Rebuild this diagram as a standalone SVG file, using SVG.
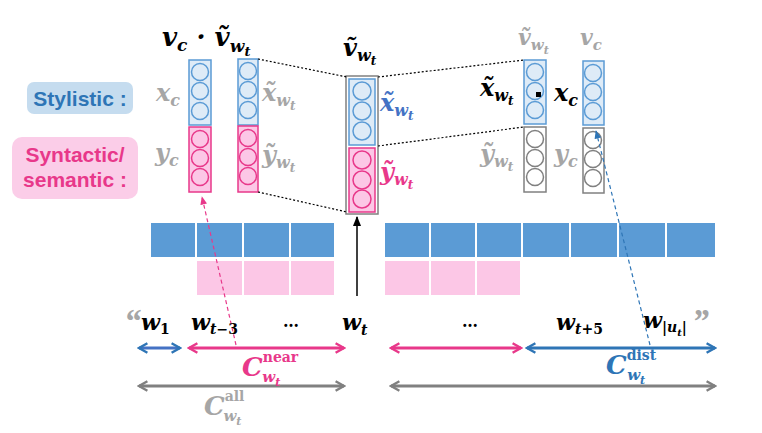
<svg xmlns="http://www.w3.org/2000/svg" width="762" height="433" viewBox="0 0 762 433">
<defs>
<style>
.m{font-family:"DejaVu Serif","Liberation Serif",serif;font-style:italic;font-weight:bold}
.g{fill:#a6a6a6}
.k{fill:#000}
.q{font-family:"Liberation Serif",serif;font-weight:bold;font-size:34px;fill:#a6a6a6}
.lab{font-family:"Liberation Sans","Open Sans",sans-serif;font-weight:bold;font-size:21px}
.cb{fill:#deebf7;stroke:#5b9bd5;stroke-width:1.5}
.cp{fill:#fcc7e6;stroke:#e8388a;stroke-width:1.5}
.cg{fill:#fff;stroke:#808080;stroke-width:1.5}
.dot{stroke:#000;stroke-width:1.2;stroke-dasharray:2 2;fill:none}
</style>
<marker id="ab" viewBox="0 0 10 10" refX="8" refY="5" markerWidth="4" markerHeight="4" orient="auto-start-reverse"><path d="M1,1L8,5L1,9" fill="none" stroke="#2e75b6" stroke-width="2"/></marker>
<marker id="ap" viewBox="0 0 10 10" refX="8" refY="5" markerWidth="4" markerHeight="4" orient="auto-start-reverse"><path d="M1,1L8,5L1,9" fill="none" stroke="#e8388a" stroke-width="2"/></marker>
<marker id="ag" viewBox="0 0 10 10" refX="8" refY="5" markerWidth="4" markerHeight="4" orient="auto-start-reverse"><path d="M1,1L8,5L1,9" fill="none" stroke="#808080" stroke-width="2"/></marker>
<marker id="tp" viewBox="0 0 10 10" refX="9" refY="5" markerWidth="7" markerHeight="7" orient="auto"><path d="M0,1L10,5L0,9z" fill="#e8388a"/></marker>
<marker id="tb" viewBox="0 0 10 10" refX="9" refY="5" markerWidth="7" markerHeight="7" orient="auto"><path d="M0,1L10,5L0,9z" fill="#2e75b6"/></marker>
<marker id="tk" viewBox="0 0 10 10" refX="9" refY="5" markerWidth="7" markerHeight="7" orient="auto"><path d="M0,1L10,5L0,9z" fill="#000"/></marker>
</defs>
<rect width="762" height="433" fill="#fff"/>

<g id="labels">
<rect x="27" y="82" width="106" height="32" rx="7" fill="#c5dcef"/>
<text x="80" y="106" class="lab" fill="#2e75b6" text-anchor="middle">Stylistic :</text>
<rect x="12" y="137" width="126" height="62" rx="10" fill="#fbcde8"/>
<text x="75" y="162" class="lab" fill="#e8388a" text-anchor="middle">Syntactic/</text>
<text x="75" y="187" class="lab" fill="#e8388a" text-anchor="middle">semantic :</text>
</g>

<g id="vec-c">
<rect x="189" y="60" width="22" height="65" class="cb"/>
<circle cx="200" cy="72" r="8.5" class="cb"/><circle cx="200" cy="91" r="8.5" class="cb"/><circle cx="200" cy="111" r="8.5" class="cb"/>
<rect x="189" y="127" width="22" height="65" class="cp"/>
<circle cx="200" cy="139" r="8.5" class="cp"/><circle cx="200" cy="158" r="8.5" class="cp"/><circle cx="200" cy="177" r="8.5" class="cp"/>
</g>
<g id="vec-w">
<rect x="238" y="59" width="20" height="66" class="cb"/>
<circle cx="248" cy="71" r="8.5" class="cb"/><circle cx="248" cy="90" r="8.5" class="cb"/><circle cx="248" cy="110" r="8.5" class="cb"/>
<rect x="238" y="126" width="20" height="66" class="cp"/>
<circle cx="248" cy="138" r="8.5" class="cp"/><circle cx="248" cy="157" r="8.5" class="cp"/><circle cx="248" cy="176" r="8.5" class="cp"/>
</g>
<g id="vec-mid">
<rect x="346" y="76" width="32" height="138" fill="none" stroke="#808080" stroke-width="1.5"/>
<rect x="349" y="79" width="26" height="66" class="cb"/>
<circle cx="362" cy="91" r="9" class="cb"/><circle cx="362" cy="111" r="9" class="cb"/><circle cx="362" cy="131" r="9" class="cb"/>
<rect x="349" y="148" width="26" height="64" class="cp"/>
<circle cx="362" cy="160" r="9" class="cp"/><circle cx="362" cy="180" r="9" class="cp"/><circle cx="362" cy="199" r="9" class="cp"/>
</g>
<g id="vec-r1">
<rect x="524" y="60" width="22" height="64" class="cb"/>
<circle cx="535" cy="72" r="8.5" class="cb"/><circle cx="535" cy="91" r="8.5" class="cb"/><circle cx="535" cy="110" r="8.5" class="cb"/>
<rect x="524" y="127" width="22" height="65" class="cg"/>
<circle cx="535" cy="139" r="8.5" class="cg"/><circle cx="535" cy="158" r="8.5" class="cg"/><circle cx="535" cy="177" r="8.5" class="cg"/>
</g>
<g id="vec-r2">
<rect x="583" y="61" width="21" height="64" class="cb"/>
<circle cx="593" cy="73" r="8.5" class="cb"/><circle cx="593" cy="92" r="8.5" class="cb"/><circle cx="593" cy="111" r="8.5" class="cb"/>
<rect x="583" y="128" width="21" height="65" class="cg"/>
<circle cx="593" cy="140" r="8.5" class="cg"/><circle cx="593" cy="159" r="8.5" class="cg"/><circle cx="593" cy="178" r="8.5" class="cg"/>
</g>

<g id="bars" stroke="#fff" stroke-width="2">
<rect x="150" y="222" width="46" height="36" fill="#5b9bd5"/><rect x="196" y="222" width="47" height="36" fill="#5b9bd5"/><rect x="243" y="222" width="47" height="36" fill="#5b9bd5"/><rect x="290" y="222" width="45" height="36" fill="#5b9bd5"/>
<rect x="384" y="222" width="46" height="36" fill="#5b9bd5"/><rect x="430" y="222" width="46" height="36" fill="#5b9bd5"/><rect x="476" y="222" width="46" height="36" fill="#5b9bd5"/><rect x="522" y="222" width="48" height="36" fill="#5b9bd5"/><rect x="570" y="222" width="48" height="36" fill="#5b9bd5"/><rect x="618" y="222" width="48" height="36" fill="#5b9bd5"/><rect x="666" y="222" width="50" height="36" fill="#5b9bd5"/>
<rect x="196" y="260" width="47" height="36" fill="#fcc7e6"/><rect x="243" y="260" width="47" height="36" fill="#fcc7e6"/><rect x="290" y="260" width="45" height="36" fill="#fcc7e6"/>
<rect x="384" y="260" width="46" height="36" fill="#fcc7e6"/><rect x="430" y="260" width="46" height="36" fill="#fcc7e6"/><rect x="476" y="260" width="45" height="36" fill="#fcc7e6"/>
</g>

<g id="connectors">
<path d="M258,59L347,77M258,192L347,212M378,77L524,60M378,146L524,127" class="dot"/>
<path d="M357,296V217" stroke="#000" stroke-width="1.5" marker-end="url(#tk)"/>
<path d="M236,345L202,197" stroke="#e8388a" stroke-width="1.2" stroke-dasharray="4 3" marker-end="url(#tp)"/>
<path d="M650,345L596,131" stroke="#2e75b6" stroke-width="1.2" stroke-dasharray="4 3" marker-end="url(#tb)"/>
<g stroke-width="3" fill="none">
<path d="M139,348H180" stroke="#4472c4" marker-start="url(#ab)" marker-end="url(#ab)"/>
<path d="M189,348H344" stroke="#e8388a" marker-start="url(#ap)" marker-end="url(#ap)"/>
<path d="M391,348H521" stroke="#e8388a" marker-start="url(#ap)" marker-end="url(#ap)"/>
<path d="M527,348H715" stroke="#2e75b6" marker-start="url(#ab)" marker-end="url(#ab)"/>
<path d="M139,386H344" stroke="#808080" marker-start="url(#ag)" marker-end="url(#ag)"/>
<path d="M391,386H715" stroke="#808080" marker-start="url(#ag)" marker-end="url(#ag)"/>
</g>
</g>

<g id="texts" class="m">
<text x="162" y="46" font-size="26" class="k">v<tspan font-size="17" dy="5">c</tspan><tspan dy="-5" font-size="26"> · ṽ</tspan><tspan font-size="17" dy="6">w</tspan><tspan font-size="13" dy="4">t</tspan></text>
<text x="343" y="56" font-size="24" class="k">ṽ<tspan font-size="16" dy="5">w</tspan><tspan font-size="12" dy="4">t</tspan></text>
<text x="156" y="101" font-size="24" class="g">x<tspan font-size="16" dy="5">c</tspan></text>
<text x="155" y="161" font-size="24" class="g">y<tspan font-size="16" dy="5">c</tspan></text>
<text x="262" y="101" font-size="24" class="g">x̃<tspan font-size="16" dy="5">w</tspan><tspan font-size="12" dy="4">t</tspan></text>
<text x="262" y="163" font-size="24" class="g">ỹ<tspan font-size="16" dy="5">w</tspan><tspan font-size="12" dy="4">t</tspan></text>
<text x="380" y="111" font-size="24" fill="#4472c4">x̃<tspan font-size="16" dy="5">w</tspan><tspan font-size="12" dy="4">t</tspan></text>
<text x="380" y="180" font-size="24" fill="#e8388a">ỹ<tspan font-size="16" dy="5">w</tspan><tspan font-size="12" dy="4">t</tspan></text>
<text x="518" y="45" font-size="22" class="g">ṽ<tspan font-size="15" dy="5">w</tspan><tspan font-size="11" dy="4">t</tspan></text>
<text x="580" y="45" font-size="22" class="g">v<tspan font-size="15" dy="5">c</tspan></text>
<text x="480" y="96" font-size="24" class="k">x̃<tspan font-size="16" dy="5">w</tspan><tspan font-size="12" dy="4">t</tspan></text>
<rect x="536" y="92" width="5" height="5" fill="#000"/>
<text x="554" y="101" font-size="24" class="k">x<tspan font-size="16" dy="5">c</tspan></text>
<text x="480" y="162" font-size="24" class="g">ỹ<tspan font-size="16" dy="5">w</tspan><tspan font-size="12" dy="4">t</tspan></text>
<text x="554" y="162" font-size="24" class="g">y<tspan font-size="16" dy="5">c</tspan></text>

<text x="124" y="332" class="q">“</text>
<text x="692" y="332" class="q">”</text>
<text x="141" y="330" font-size="22" class="k">w<tspan font-size="14" dy="4" font-style="normal">1</tspan></text>
<text x="191" y="330" font-size="22" class="k">w<tspan font-size="14" dy="4">t</tspan><tspan font-size="14" font-style="normal">−3</tspan></text>
<text x="283" y="327" font-size="16" class="k" font-style="normal">…</text>
<text x="342" y="330" font-size="22" class="k">w<tspan font-size="14" dy="5">t</tspan></text>
<text x="462" y="327" font-size="16" class="k" font-style="normal">…</text>
<text x="556" y="330" font-size="22" class="k">w<tspan font-size="14" dy="4">t</tspan><tspan font-size="14" font-style="normal">+5</tspan></text>
<text x="643" y="328" font-size="22" class="k">w<tspan font-size="14" dy="4" font-style="normal">|</tspan><tspan font-size="14">u</tspan><tspan font-size="10" dy="4">t</tspan><tspan font-size="14" dy="-4" font-style="normal">|</tspan></text>

<text x="242" y="376" font-size="26" fill="#e8388a">C<tspan font-size="14" dy="-14" font-style="normal">near</tspan><tspan font-size="15" dx="-36" dy="20">w</tspan><tspan font-size="11" dy="4">t</tspan></text>
<text x="606" y="374" font-size="26" fill="#2e75b6">C<tspan font-size="14" dy="-14" font-style="normal">dist</tspan><tspan font-size="15" dx="-29" dy="20">w</tspan><tspan font-size="11" dy="4">t</tspan></text>
<text x="204" y="415" font-size="26" class="g">C<tspan font-size="14" dy="-14" font-style="normal">all</tspan><tspan font-size="15" dx="-21" dy="20">w</tspan><tspan font-size="11" dy="4">t</tspan></text>
</g>
</svg>
